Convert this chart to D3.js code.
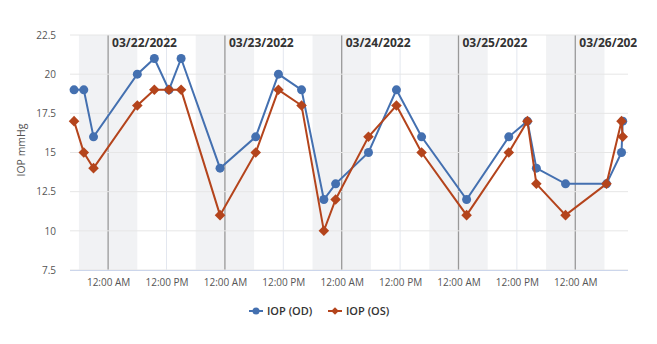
<!DOCTYPE html>
<html><head><meta charset="utf-8">
<script src="https://cdn.jsdelivr.net/npm/d3@7"></script>
<style>body{margin:0;background:#fff;} svg{display:block;font-family:"Open Sans",sans-serif;}</style>
</head><body>
<svg id="c" width="657" height="344"></svg>
<script>
const times = ["2022-03-21T17:00","2022-03-21T19:00","2022-03-21T21:00","2022-03-22T06:00","2022-03-22T09:30","2022-03-22T12:30","2022-03-22T15:00","2022-03-22T23:00","2022-03-23T06:20","2022-03-23T11:00","2022-03-23T15:45","2022-03-23T20:20","2022-03-23T22:45","2022-03-24T05:30","2022-03-24T11:15","2022-03-24T16:25","2022-03-25T01:40","2022-03-25T10:20","2022-03-25T14:10","2022-03-25T16:00","2022-03-25T22:00","2022-03-26T06:25","2022-03-26T09:30","2022-03-26T09:45"];
const od = [19,19,16,20,21,19,21,14,16,20,19,12,13,15,19,16,12,16,17,14,13,13,15,17];
const os = [17,15,14,18,19,19,19,11,15,19,18,10,12,16,18,15,11,15,17,13,11,13,17,16];
const yTicks = [7.5,10,12.5,15,17.5,20,22.5];
const days = ["2022-03-22","2022-03-23","2022-03-24","2022-03-25","2022-03-26"];
const dayLabels = ["03/22/2022","03/23/2022","03/24/2022","03/25/2022","03/26/2022"];
const xDomain = ["2022-03-21T16:10","2022-03-26T10:50"];
const seriesNames = ["IOP (OD)","IOP (OS)"];

const parse = d3.timeParse("%Y-%m-%dT%H:%M");
const parseDay = d3.timeParse("%Y-%m-%d");
const svg = d3.select("#c");
const L=70,R=628,T=35,B=270;
const x = d3.scaleTime().domain(xDomain.map(parse)).range([L,R]);
const y = d3.scaleLinear().domain([7.5,22.5]).range([B,T]);
const blue="#4470b0", red="#b4441c";

const defs = svg.append("defs");
defs.append("clipPath").attr("id","clip").append("rect").attr("x",L).attr("y",T-5).attr("width",R-L).attr("height",B-T+10);
defs.append("clipPath").attr("id","clipL").append("rect").attr("x",L).attr("y",T-5).attr("width",R-L+9).attr("height",B-T+10);
const plot = svg.append("g").attr("clip-path","url(#clip)");

// night bands 18:00 - 06:00
const dayDates = days.map(parseDay);
const bandStarts = [d3.timeDay.offset(dayDates[0],-1)].concat(dayDates);
bandStarts.forEach(d=>{
  const s = d3.timeHour.offset(d,18), e = d3.timeHour.offset(d,30);
  plot.append("rect").attr("x",x(s)).attr("y",T).attr("width",x(e)-x(s)).attr("height",B-T).attr("fill","#f1f2f4");
});
// horizontal grid
svg.append("g").selectAll("line").data(yTicks).join("line")
  .attr("x1",L).attr("x2",R).attr("y1",d=>y(d)).attr("y2",d=>y(d))
  .attr("stroke","#e6e6e6").attr("stroke-width",1);
// noon lines
plot.append("g").selectAll("line").data(bandStarts.map(d=>d3.timeHour.offset(d,12))).join("line")
  .attr("x1",d=>x(d)).attr("x2",d=>x(d)).attr("y1",T).attr("y2",B)
  .attr("stroke","#e3e7ef").attr("stroke-width",1);
// midnight lines
plot.append("g").selectAll("line").data(dayDates).join("line")
  .attr("x1",d=>x(d)).attr("x2",d=>x(d)).attr("y1",T).attr("y2",B)
  .attr("stroke","#999").attr("stroke-width",1.3);
// day labels
svg.append("g").attr("clip-path","url(#clipL)").selectAll("text").data(dayDates).join("text")
  .attr("x",d=>x(d)+4).attr("y",T+12).text((d,i)=>dayLabels[i])
  .attr("font-size","12px").attr("font-weight","bold").attr("fill","#333");
// x axis
svg.append("line").attr("x1",L).attr("x2",R).attr("y1",B+0.5).attr("y2",B+0.5).attr("stroke","#ccd6eb");
const xt = d3.timeHour.every(12).range(x.domain()[0], x.domain()[1]);
const xAxis = d3.axisBottom(x).tickValues(xt).tickSize(0).tickPadding(9).tickFormat(d3.timeFormat("%I:%M %p"));
const gx = svg.append("g").attr("transform",`translate(0,${B})`).call(xAxis);
gx.select(".domain").remove();
gx.selectAll("text").attr("font-size","10px").attr("fill","#555").attr("font-family","Open Sans");
// y axis
const yAxis = d3.axisLeft(y).tickValues(yTicks).tickSize(0).tickPadding(14).tickFormat(d=>d);
const gy = svg.append("g").attr("transform",`translate(${L},0)`).call(yAxis);
gy.select(".domain").remove();
gy.selectAll("text").attr("font-size","10px").attr("fill","#555").attr("font-family","Open Sans");
svg.append("text").attr("transform","translate(25,150) rotate(-90)").attr("text-anchor","middle")
  .attr("font-size","10.5px").attr("fill","#555").text("IOP mmHg");

const tx = times.map(parse);
const line = d3.line().x(d=>x(d[0])).y(d=>y(d[1]));
function drawSeries(vals,color,type){
  const pts = tx.map((t,i)=>[t,vals[i]]);
  svg.append("path").attr("d",line(pts)).attr("fill","none").attr("stroke",color).attr("stroke-width",2);
  const g = svg.append("g");
  if(type==="circle"){
    g.selectAll("circle").data(pts).join("circle").attr("cx",d=>x(d[0])).attr("cy",d=>y(d[1])).attr("r",4.5).attr("fill",color);
  } else {
    g.selectAll("path").data(pts).join("path").attr("d",d3.symbol().type(d3.symbolSquare).size(56))
      .attr("transform",d=>`translate(${x(d[0])},${y(d[1])}) rotate(45)`).attr("fill",color);
  }
}
drawSeries(od,blue,"circle");
drawSeries(os,red,"diamond");

// legend
const lg = svg.append("g");
const items=[{n:seriesNames[0],c:blue,t:"circle",x:249},{n:seriesNames[1],c:red,t:"diamond",x:328}];
items.forEach(it=>{
  lg.append("line").attr("x1",it.x).attr("x2",it.x+14).attr("y1",311).attr("y2",311).attr("stroke",it.c).attr("stroke-width",2);
  if(it.t==="circle") lg.append("circle").attr("cx",it.x+7).attr("cy",311).attr("r",3.5).attr("fill",it.c);
  else lg.append("path").attr("d",d3.symbol().type(d3.symbolSquare).size(30)).attr("transform",`translate(${it.x+7},311) rotate(45)`).attr("fill",it.c);
  lg.append("text").attr("x",it.x+18).attr("y",315).text(it.n).attr("font-size","11px").attr("font-weight","600").attr("fill","#333");
});
</script>
</body></html>
